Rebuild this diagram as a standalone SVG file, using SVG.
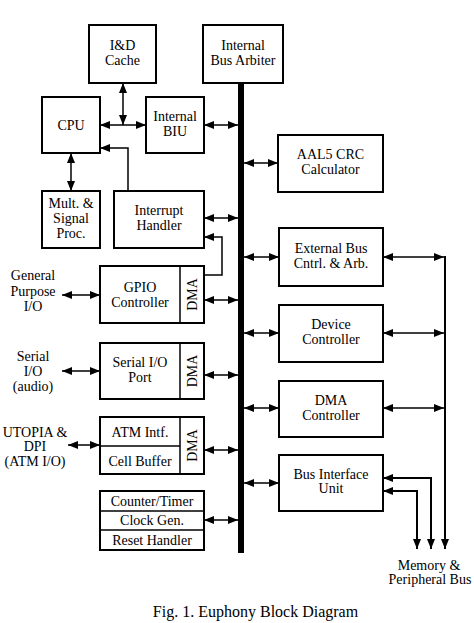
<svg xmlns="http://www.w3.org/2000/svg" width="474" height="623" viewBox="0 0 474 623">
<defs>
<marker id="ah" markerUnits="userSpaceOnUse" markerWidth="10" markerHeight="8" refX="10" refY="4" orient="auto-start-reverse">
<path d="M0,0 L10,4 L0,8 z" fill="#000"/>
</marker>
</defs>
<style>
.b{fill:#fff;stroke:#000;stroke-width:2}
.t{font-family:"Liberation Serif","Times New Roman",serif;font-size:14px;text-anchor:middle;fill:#000}
.c{fill:none;stroke:#000;stroke-width:1.5}
.d{marker-start:url(#ah);marker-end:url(#ah)}
.e{marker-end:url(#ah)}
.v{fill:none;stroke:#000;stroke-width:2}
</style>
<rect width="474" height="623" fill="#fff"/>

<g id="connectors">
<line class="c d" x1="123" y1="83" x2="123" y2="125"/>
<line class="c d" x1="100" y1="125" x2="146" y2="125"/>
<line class="c d" x1="204" y1="125" x2="238" y2="125"/>
<polyline class="c e" points="128,191 128,148 100,148"/>
<line class="c d" x1="71" y1="153" x2="71" y2="191"/>
<line class="c d" x1="204" y1="218" x2="238" y2="218"/>
<polyline class="c e" points="204,275 222,275 222,237 204,237"/>
<line class="c d" x1="204" y1="300" x2="238" y2="300"/>
<line class="c d" x1="62" y1="295" x2="100" y2="295"/>
<line class="c d" x1="204" y1="375" x2="238" y2="375"/>
<line class="c d" x1="62" y1="371" x2="100" y2="371"/>
<line class="c d" x1="204" y1="450" x2="238" y2="450"/>
<line class="c d" x1="68" y1="445" x2="100" y2="445"/>
<line class="c d" x1="204" y1="520" x2="238" y2="520"/>
<line class="c d" x1="244" y1="163" x2="278" y2="163"/>
<line class="c d" x1="244" y1="257" x2="279" y2="257"/>
<line class="c d" x1="244" y1="333" x2="279" y2="333"/>
<line class="c d" x1="244" y1="408" x2="279" y2="408"/>
<line class="c d" x1="244" y1="483" x2="279" y2="483"/>
<line class="c d" x1="383" y1="257" x2="444" y2="257"/>
<line class="c d" x1="383" y1="333" x2="444" y2="333"/>
<line class="c d" x1="383" y1="408" x2="444" y2="408"/>
<line class="v e" x1="445" y1="256" x2="445" y2="549"/>
<polyline class="v d" points="383,478 431,478 431,549"/>
<polyline class="v d" points="383,491 417,491 417,549"/>
</g>

<g id="bus"><rect x="238" y="83" width="6" height="470" fill="#000"/></g>

<g id="cache"><rect class="b" x="89" y="25" width="67" height="58"/>
<text class="t" x="122.5" y="50">I&amp;D</text><text class="t" x="122.5" y="65">Cache</text></g>

<g id="arbiter"><rect class="b" x="203" y="25" width="80" height="58"/>
<text class="t" x="243" y="50">Internal</text><text class="t" x="243" y="65">Bus Arbiter</text></g>

<g id="cpu"><rect class="b" x="42" y="97" width="58" height="56"/>
<text class="t" x="71" y="130">CPU</text></g>

<g id="biu-int"><rect class="b" x="146" y="97" width="58" height="56"/>
<text class="t" x="175" y="121">Internal</text><text class="t" x="175" y="136">BIU</text></g>

<g id="mult"><rect class="b" x="42" y="191" width="58" height="57"/>
<text class="t" x="71" y="208">Mult. &amp;</text><text class="t" x="71" y="223">Signal</text><text class="t" x="71" y="238">Proc.</text></g>

<g id="interrupt"><rect class="b" x="114" y="191" width="90" height="57"/>
<text class="t" x="159" y="215">Interrupt</text><text class="t" x="159" y="230">Handler</text></g>

<g id="aal5"><rect class="b" x="278" y="135" width="105" height="57"/>
<text class="t" x="330.5" y="159">AAL5 CRC</text><text class="t" x="330.5" y="174">Calculator</text></g>

<g id="extbus"><rect class="b" x="279" y="228" width="104" height="58"/>
<text class="t" x="331" y="253">External Bus</text><text class="t" x="331" y="268">Cntrl. &amp; Arb.</text></g>

<g id="device"><rect class="b" x="279" y="305" width="104" height="57"/>
<text class="t" x="331" y="329">Device</text><text class="t" x="331" y="344">Controller</text></g>

<g id="dmactrl"><rect class="b" x="279" y="381" width="104" height="56"/>
<text class="t" x="331" y="405">DMA</text><text class="t" x="331" y="420">Controller</text></g>

<g id="biu"><rect class="b" x="279" y="455" width="104" height="56"/>
<text class="t" x="331" y="479">Bus Interface</text><text class="t" x="331" y="493">Unit</text></g>

<g id="gpio"><rect class="b" x="100" y="266" width="104" height="57"/>
<line x1="180" y1="266" x2="180" y2="323" stroke="#000" stroke-width="1.5"/>
<text class="t" x="140" y="292">GPIO</text><text class="t" x="140" y="307">Controller</text>
<text class="t" transform="translate(192,294.5) rotate(-90)" y="5">DMA</text></g>

<g id="serial"><rect class="b" x="100" y="343" width="104" height="56"/>
<line x1="180" y1="343" x2="180" y2="399" stroke="#000" stroke-width="1.5"/>
<text class="t" x="140" y="367">Serial I/O</text><text class="t" x="140" y="382">Port</text>
<text class="t" transform="translate(192,371) rotate(-90)" y="5">DMA</text></g>

<g id="atm"><rect class="b" x="100" y="417" width="104" height="57"/>
<line x1="180" y1="417" x2="180" y2="474" stroke="#000" stroke-width="1.5"/>
<line x1="100" y1="446" x2="180" y2="446" stroke="#000" stroke-width="1.5"/>
<text class="t" x="140" y="437">ATM Intf.</text><text class="t" x="140" y="466">Cell Buffer</text>
<text class="t" transform="translate(192,445.5) rotate(-90)" y="5">DMA</text></g>

<g id="timers"><rect class="b" x="100" y="491" width="104" height="59"/>
<line x1="100" y1="511" x2="204" y2="511" stroke="#000" stroke-width="1.5"/>
<line x1="100" y1="530" x2="204" y2="530" stroke="#000" stroke-width="1.5"/>
<text class="t" x="152" y="506">Counter/Timer</text><text class="t" x="152" y="525">Clock Gen.</text><text class="t" x="152" y="545">Reset Handler</text></g>

<g id="labels">
<text class="t" x="33" y="280">General</text><text class="t" x="33" y="296">Purpose</text><text class="t" x="33" y="311">I/O</text>
<text class="t" x="33" y="361">Serial</text><text class="t" x="33" y="376">I/O</text><text class="t" x="33" y="391">(audio)</text>
<text class="t" x="35" y="437">UTOPIA &amp;</text><text class="t" x="35" y="451">DPI</text><text class="t" x="35" y="466">(ATM I/O)</text>
<text class="t" x="429" y="570">Memory &amp;</text><text class="t" x="430" y="584">Peripheral Bus</text>
<text class="t" x="255.5" y="617" style="font-size:16px">Fig. 1. Euphony Block Diagram</text>
</g>
</svg>
